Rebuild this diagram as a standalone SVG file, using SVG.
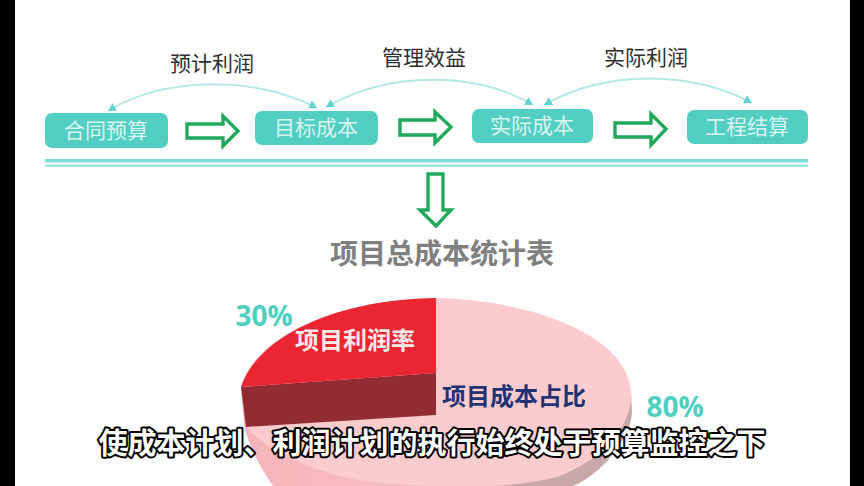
<svg xmlns="http://www.w3.org/2000/svg" width="864" height="486" viewBox="0 0 864 486">
<defs>
<style>
text{font-family:"Noto Sans CJK SC","Noto Sans",sans-serif}
.box{fill:#52cfc2}
.bt{fill:#d9f5f0;font-size:21px;text-anchor:middle}
.lb{fill:#2e2e2e;font-size:21px;text-anchor:middle}
.cv{fill:none;stroke:#b2e8e6;stroke-width:1.8;marker-start:url(#ah);marker-end:url(#ah)}
.ga{fill:#fff;stroke:#1fa95c;stroke-width:3.4}
.pc{fill:#4fcfc0;font-family:"Open Sans",sans-serif;font-weight:700;font-size:28px;text-anchor:middle}
</style>
<marker id="ah" markerUnits="userSpaceOnUse" markerWidth="10" markerHeight="10" refX="8" refY="4.5" orient="auto-start-reverse"><path d="M0 0L8 4.5L0 9Z" fill="#62d3cf"/></marker>
<linearGradient id="rim" x1="0" y1="0" x2="1" y2="0"><stop offset="0" stop-color="#f6b4b9"/><stop offset=".35" stop-color="#f6bcc0"/><stop offset=".7" stop-color="#c9a8aa"/><stop offset="1" stop-color="#c9a8aa"/></linearGradient>
</defs>
<rect width="864" height="486" fill="#fefefe"/>
<rect width="15" height="486" fill="#000"/>
<rect x="850" width="14" height="486" fill="#000"/>
<g id="connectors">
<path class="cv" d="M108 111C165 76 255 76 317 108"/>
<path class="cv" d="M326 107C390 71 475 71 533 105"/>
<path class="cv" d="M544 105C605 70 690 70 752 103"/>
<path class="ga" d="M187 124H223V116L238 131L223 146V138H187Z"/>
<path class="ga" d="M400 120H435V112L451 127L435 143V135H400Z"/>
<path class="ga" d="M615 123H651V114L666 129L651 145V137H615Z"/>
<path class="ga" d="M428 174H443V210H451L436 226L420 210H428Z"/>
</g>
<g id="rule"><rect x="45" y="159" width="763" height="3.5" fill="#7edfd6"/><rect x="45" y="164.5" width="763" height="2.5" fill="#9be8e0"/></g>
<g id="node-hetong"><rect class="box" x="45" y="113" width="123" height="35" rx="7"/><text class="bt" x="106" y="138">合同预算</text></g>
<g id="node-mubiao"><rect class="box" x="255" y="111" width="123" height="34" rx="7"/><text class="bt" x="316" y="135">目标成本</text></g>
<g id="node-shiji"><rect class="box" x="472" y="109" width="121" height="34" rx="7"/><text class="bt" x="532" y="133">实际成本</text></g>
<g id="node-gongcheng"><rect class="box" x="687" y="110" width="121" height="34" rx="7"/><text class="bt" x="747" y="134">工程结算</text></g>
<g id="labels">
<text class="lb" x="212" y="71">预计利润</text>
<text class="lb" x="424" y="65">管理效益</text>
<text class="lb" x="646" y="65">实际利润</text>
<text x="442" y="264" font-size="28" font-weight="700" fill="#7f7f7f" text-anchor="middle">项目总成本统计表</text>
</g>
<g id="pie">
<path d="M241 387L244 425C250 450 262 470 273 486H573C600 475 630 440 632 413L631 392Z" fill="url(#rim)"/>
<path d="M436 298C530 300 628 335 631 392C634 425 600 462 557 477C520 486 480 488 440 486C390 486 345 480 320 470C290 460 262 445 246 427L241 387C255 335 340 299 436 298Z" fill="#fccbce"/>
<path d="M241 387L436 373V415L246 427Z" fill="#922c33"/>
<path d="M241 387C258 335 340 299 436 298V373Z" fill="#ec2533"/>
<text x="355" y="349" font-size="24" font-weight="700" fill="#fbeaea" text-anchor="middle">项目利润率</text>
<text x="514" y="405" font-size="24" font-weight="700" fill="#1f3373" text-anchor="middle">项目成本占比</text>
<text class="pc" x="264" y="326">30%</text>
<text class="pc" x="675" y="417">80%</text>
</g>
<text x="432" y="454" font-size="29" font-weight="700" fill="#fff" stroke="#000" stroke-width="4" paint-order="stroke" stroke-linejoin="round" text-anchor="middle">使成本计划、利润计划的执行始终处于预算监控之下</text>
</svg>
